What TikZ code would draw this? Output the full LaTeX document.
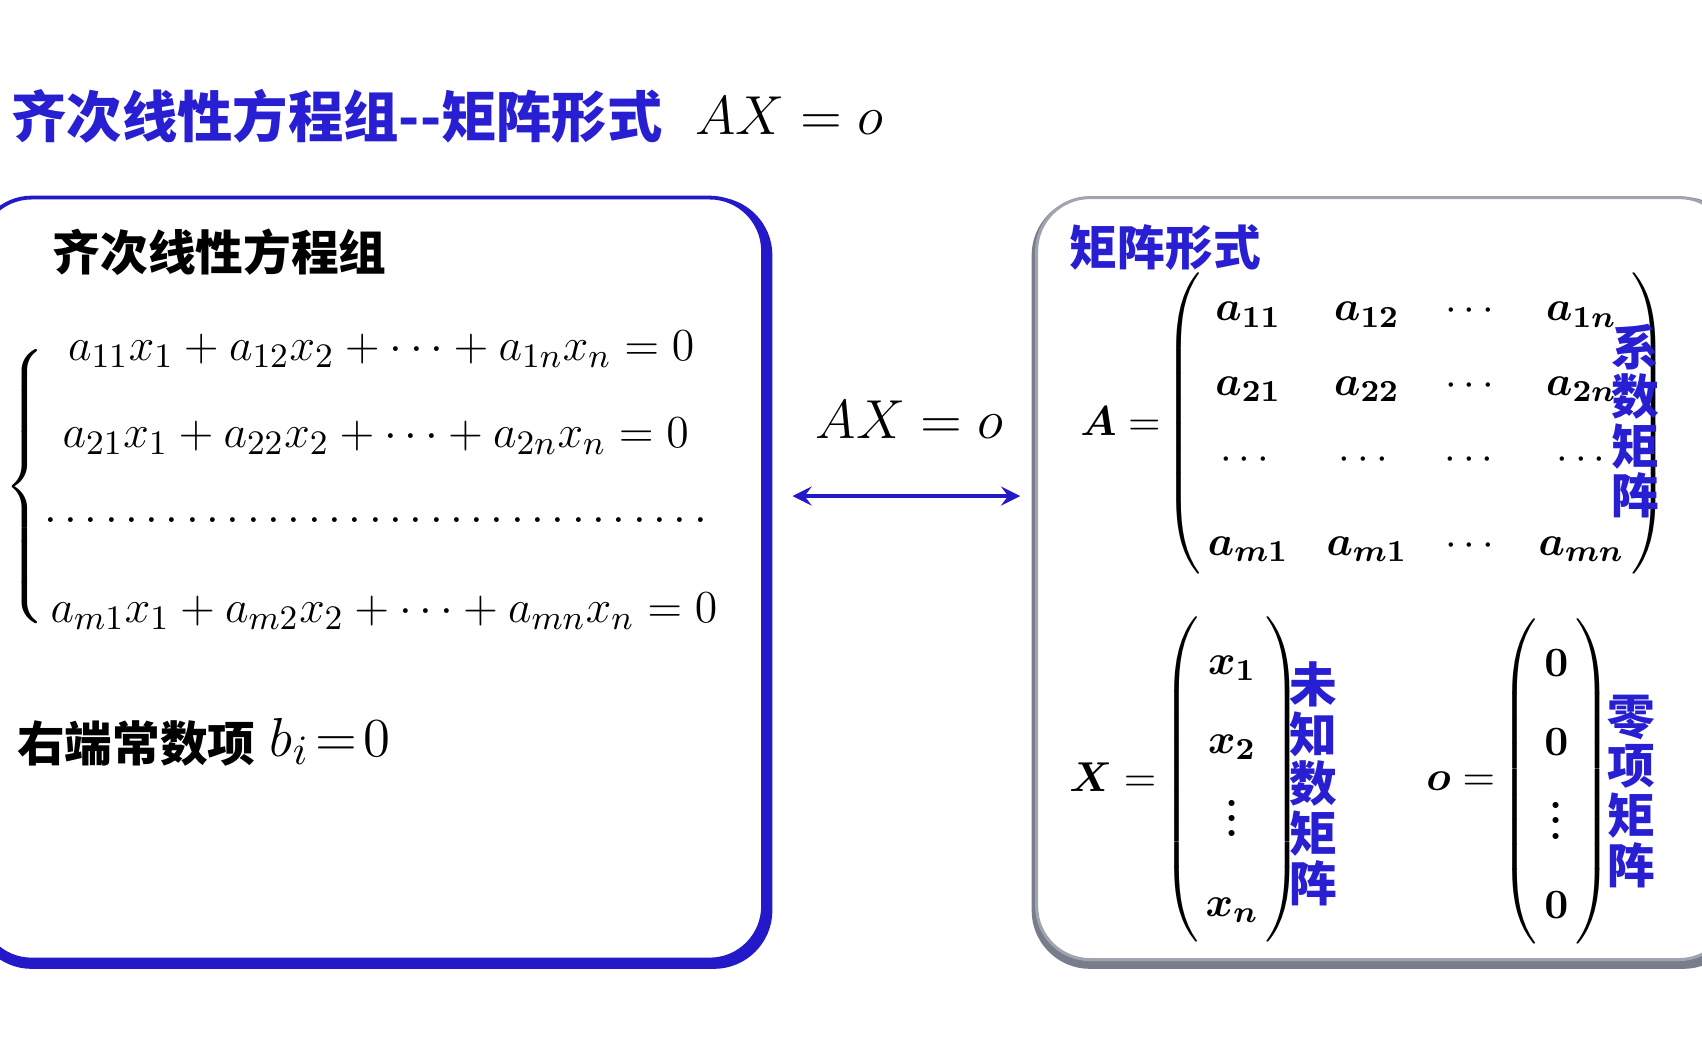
\documentclass[tikz,border=0pt]{standalone}
\usepackage{amsmath,bm}
\usepackage{fontspec}
\newfontfamily\cjk{Noto Sans CJK SC}
\definecolor{tblue}{RGB}{40,30,210}
\definecolor{bblue}{RGB}{35,25,200}
\definecolor{gbox}{RGB}{120,125,140}
\tikzset{
 cn/.style={font=\cjk\bfseries\fontsize{12.5}{15}\selectfont, inner sep=0pt},
 vlab/.style={font=\cjk\bfseries\fontsize{12.5}{15}\selectfont, text=tblue, inner sep=0pt, align=center},
 mth/.style={inner sep=0pt, font=\fontsize{13}{16}\selectfont},
 mtx/.style={inner sep=0pt, font=\fontsize{11}{13}\selectfont},
}
\begin{document}
\begin{tikzpicture}[x=0.1mm,y=-0.1mm]
\useasboundingbox (0,0) rectangle (1568,980);
\fill[white] (0,0) rectangle (1568,980);
% title
\node[cn, text=tblue, anchor=west, font=\cjk\bfseries\fontsize{14.5}{17}\selectfont] (title) at (10,107) {齐次线性方程组--矩阵形式};
\node[mth, anchor=west, font=\fontsize{15.5}{18}\selectfont] (titlem) at (640,107) {$AX=o$};
% left box
\draw[bblue, line width=2.6pt, rounded corners=14pt] (-20,186) rectangle (707,888);
\draw[bblue, line width=1pt, fill=white, rounded corners=14pt] (-20,182) rectangle (703,884);
\node[cn, anchor=west] (lt) at (48,232) {齐次线性方程组};
\node[mth, anchor=west] (e1) at (62,322) {$a_{11}x_1+a_{12}x_2+\cdots+a_{1n}x_n=0$};
\node[mth, anchor=west] (e2) at (57,402) {$a_{21}x_1+a_{22}x_2+\cdots+a_{2n}x_n=0$};
\node[mth, anchor=west] (e3) at (40,480) {$\cdots\cdots\cdots\cdots\cdots\cdots\cdots\cdots\cdots\cdots\cdots$};
\node[mth, anchor=west] (e4) at (46,563) {$a_{m1}x_1+a_{m2}x_2+\cdots+a_{mn}x_n=0$};
\node[inner sep=0pt] (br) at (25,445) {\fontsize{13}{16}\selectfont$\left\{\vphantom{\rule{0pt}{41pt}}\right.$};
\node[cn, anchor=west] (rhs) at (15,685) {右端常数项};
\node[mth, anchor=west, font=\fontsize{15.5}{18}\selectfont] (rhsm) at (248,683) {$b_i\!=\!0$};
% middle
\node[mth, font=\fontsize{15.5}{18}\selectfont] (mid) at (838,387) {$AX=o$};
\coordinate (al) at (730,457);
\coordinate (ar) at (940,457);
\draw[bblue, line width=1.2pt, <->, >=stealth] (al) -- (ar);
% right box
\draw[gbox, line width=2.6pt, rounded corners=14pt] (955,186) rectangle (1600,888);
\draw[gbox!70, line width=0.8pt, fill=white, rounded corners=14pt] (955,182) rectangle (1596,884);
\node[cn, text=tblue, anchor=west] (rt) at (985,228) {矩阵形式};
\node[mtx, anchor=east] (Aeq) at (1070,388) {$\bm{A}=$};
\node[mtx, anchor=west] (Amat) at (1072,390) {$\left(\renewcommand{\arraystretch}{1.5}\begin{array}{@{\,}c@{\hspace{0.9em}}c@{\hspace{0.9em}}c@{\hspace{0.9em}}c@{\,}}
\bm{a_{11}}&\bm{a_{12}}&\cdots&\bm{a_{1n}}\\
\bm{a_{21}}&\bm{a_{22}}&\cdots&\bm{a_{2n}}\\
\cdots&\cdots&\cdots&\cdots\\[3pt]
\bm{a_{m1}}&\bm{a_{m1}}&\cdots&\bm{a_{mn}}\end{array}\right)$};
\node[vlab] (Alab) at (1507,388) {系\\[-2pt]数\\[-2pt]矩\\[-2pt]阵};
\node[mtx, anchor=east] (Xeq) at (1066,716) {$\bm{X}=$};
\node[mtx, anchor=west] (Xmat) at (1070,718) {$\left(\renewcommand{\arraystretch}{1.6}\begin{array}{@{\,}c@{\,}}
\bm{x_1}\\ \bm{x_2}\\ \bm{\vdots}\\ \bm{x_n}\end{array}\right)$};
\node[vlab] (Xlab) at (1210,722) {未\\[-2pt]知\\[-2pt]数\\[-2pt]矩\\[-2pt]阵};
\node[mtx, anchor=east] (oeq) at (1378,720) {$\bm{o}=$};
\node[mtx, anchor=west] (omat) at (1382,720) {$\left(\renewcommand{\arraystretch}{1.6}\begin{array}{@{\,}c@{\,}}
\bm{0}\\ \bm{0}\\ \bm{\vdots}\\ \bm{0}\end{array}\right)$};
\node[vlab] (olab) at (1503,729) {零\\[-2pt]项\\[-2pt]矩\\[-2pt]阵};
\end{tikzpicture}
\end{document}
